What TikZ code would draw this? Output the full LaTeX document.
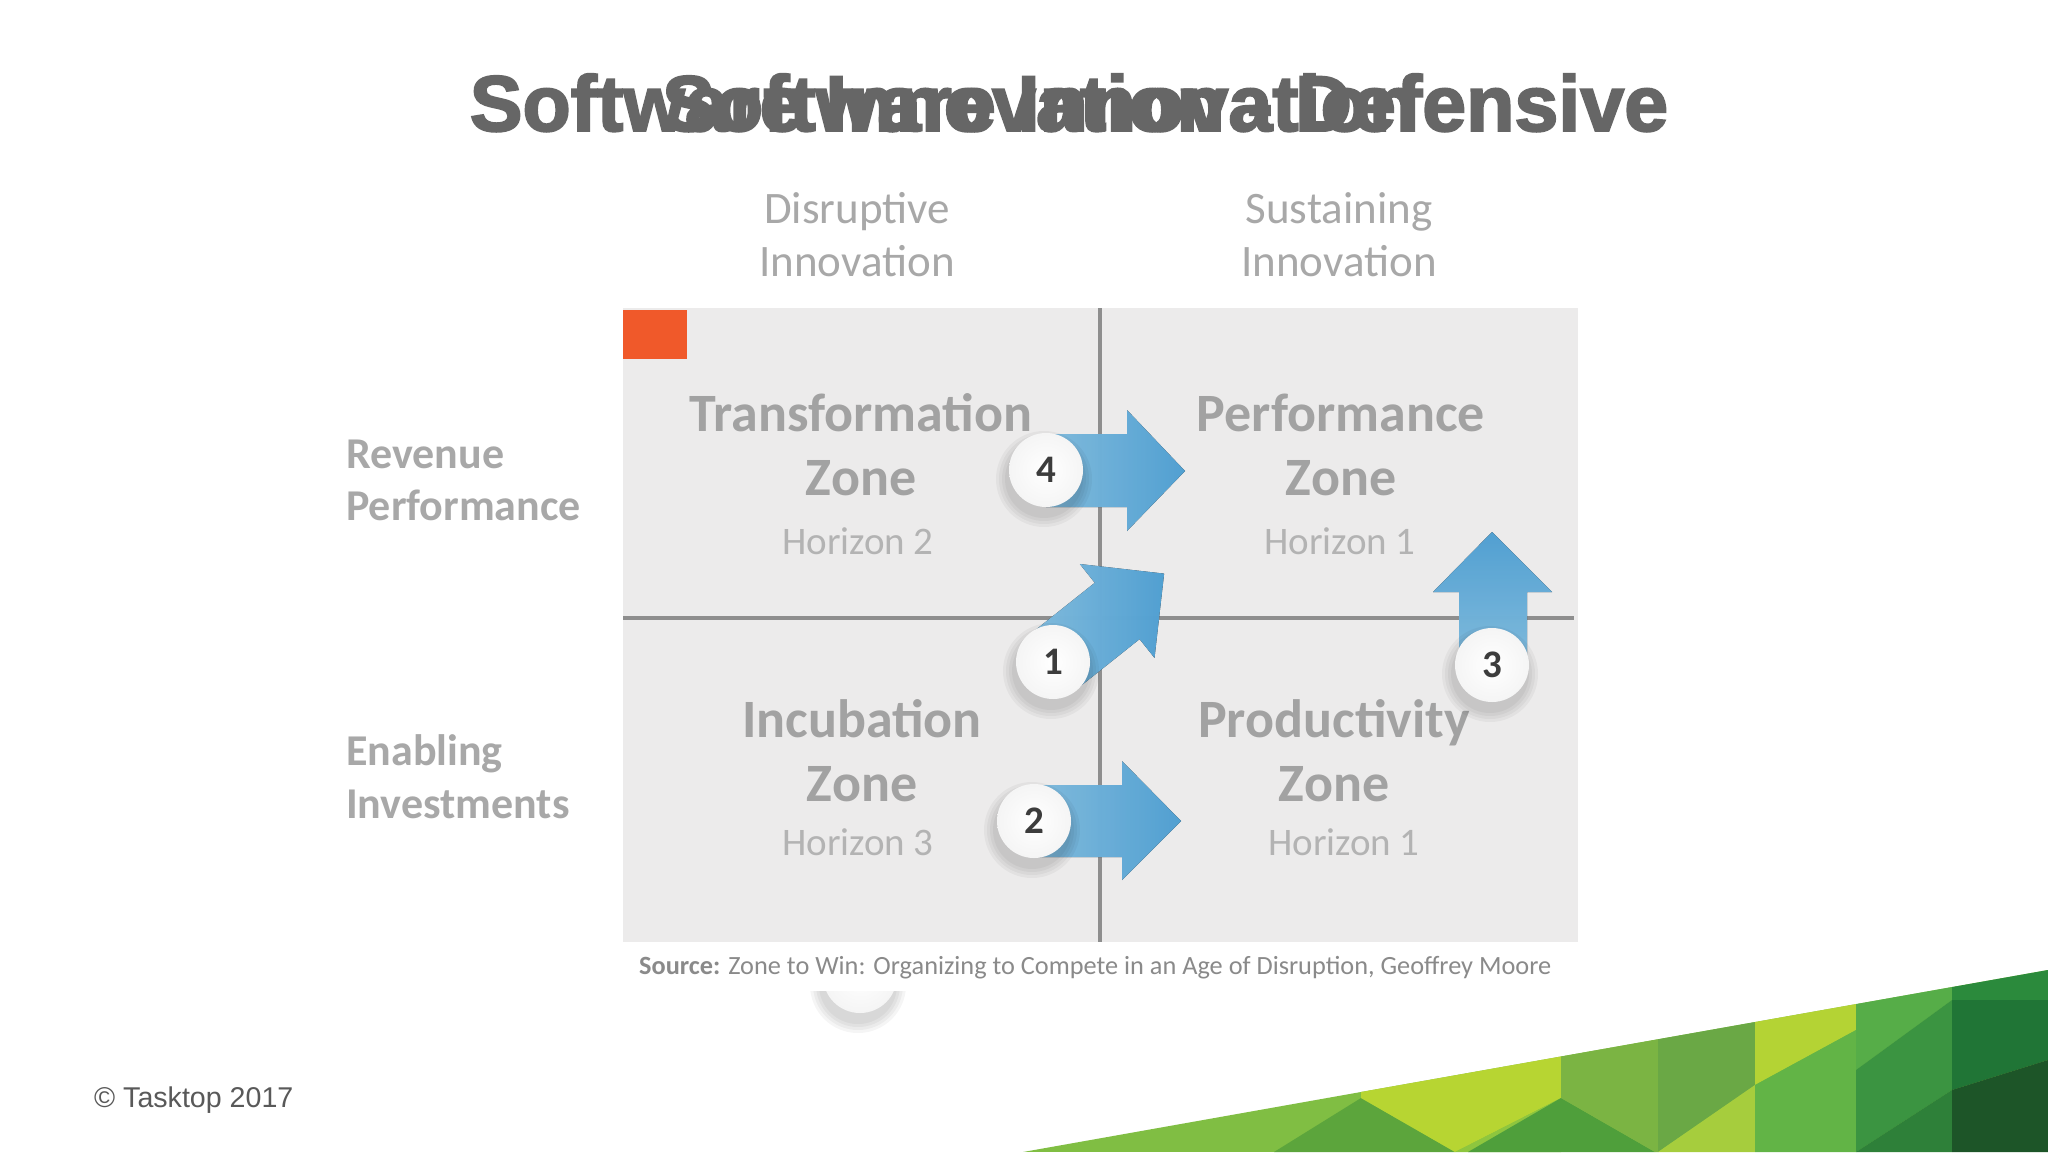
\documentclass[tikz,border=0pt]{standalone}
\usepackage{fontspec}
\setmainfont{Carlito}
\newfontfamily\arialf{Liberation Sans}
\newfontfamily\titlef{Liberation Sans Bold}[FakeBold=2.5]
\usetikzlibrary{calc}
\definecolor{titlegray}{HTML}{666666}
\definecolor{quadbg}{HTML}{ECEBEB}
\definecolor{divline}{HTML}{8E8E8E}
\definecolor{labgray}{HTML}{A8A8A8}
\definecolor{zonegray}{HTML}{A2A2A2}
\definecolor{horgray}{HTML}{B3B3B3}
\definecolor{srcgray}{HTML}{8A8A8A}
\definecolor{orangesq}{HTML}{F0592A}
\definecolor{arrowlight}{HTML}{8DCDF2}
\definecolor{arrowdark}{HTML}{58AFE6}
\definecolor{numgray}{HTML}{3C3C3C}
\definecolor{copygray}{HTML}{595959}
\definecolor{gA}{HTML}{80BE43}
\definecolor{gB}{HTML}{5CA53C}
\definecolor{gC}{HTML}{B7D532}
\definecolor{gD}{HTML}{8EC63E}
\definecolor{gE}{HTML}{4F9F3B}
\definecolor{gF}{HTML}{7BB443}
\definecolor{gG}{HTML}{6AA845}
\definecolor{gH}{HTML}{A6CD3D}
\definecolor{gI}{HTML}{B4D334}
\definecolor{gJ}{HTML}{62B446}
\definecolor{gK}{HTML}{56AD48}
\definecolor{gL}{HTML}{3B9441}
\definecolor{gM}{HTML}{2E8039}
\definecolor{gN}{HTML}{2B8A3C}
\definecolor{gO}{HTML}{207536}
\definecolor{gP}{HTML}{1D5528}
\begin{document}
\begin{tikzpicture}[x=1pt,y=-1pt,
  every node/.style={inner sep=0pt},
  titletxt/.style={text=titlegray, font=\titlef\fontsize{79}{79}\selectfont},
  hdr/.style={text=labgray, font=\fontsize{45}{45}\selectfont, anchor=base},
  rowhdr/.style={text=labgray, font=\bfseries\fontsize{44}{44}\selectfont, anchor=base west},
  zonelbl/.style={text=zonegray, font=\bfseries\fontsize{54}{54}\selectfont, anchor=base},
  horlbl/.style={text=horgray, font=\fontsize{39}{39}\selectfont, anchor=base},
  numcirc/.style={circle, minimum size=74pt, shading=radial, inner color=white, outer color=black!4, text=numgray, font=\bfseries\fontsize{39}{39}\selectfont},
  arrowfill/.style={fill opacity=0.9, left color=arrowlight, right color=arrowdark},
  arrowfillv/.style={fill opacity=0.9, bottom color=arrowlight, top color=arrowdark},
  divider/.style={draw=divline, line width=3.5pt}
]
\useasboundingbox (0,0) rectangle (2048,1152);
\fill[white] (0,0) rectangle (2048,1152);

% green mosaic
\begin{scope}
\clip (1023,1152) -- (2048,970) -- (2048,1152) -- cycle;
\fill[gA] (1000,950) rectangle (2048,1152);
\fill[gB] (1274,1152) -- (1361,1098) -- (1455,1152) -- cycle;
\fill[gC] (1361,950) -- (1561,950) -- (1561,1098) -- (1455,1152) -- (1361,1098) -- cycle;
\fill[gD] (1455,1152) -- (1561,1098) -- (1561,1152) -- cycle;
\fill[gE] (1468,1152) -- (1561,1098) -- (1655,1152) -- cycle;
\fill[gF] (1561,950) -- (1658,950) -- (1658,1152) -- (1655,1152) -- (1561,1098) -- cycle;
\fill[gG] (1658,950) -- (1755,950) -- (1755,1085) -- (1658,1152) -- cycle;
\fill[gH] (1658,1152) -- (1755,1085) -- (1755,1152) -- cycle;
\fill[gI] (1755,950) -- (1856,950) -- (1856,1030) -- (1755,1085) -- cycle;
\fill[gJ] (1755,1085) -- (1856,1030) -- (1856,1152) -- (1755,1152) -- cycle;
\fill[gK] (1856,950) -- (1952,950) -- (1952,1000) -- (1856,1070) -- cycle;
\fill[gL] (1856,1070) -- (1952,1000) -- (1952,1090) -- (1856,1152) -- cycle;
\fill[gM] (1856,1152) -- (1952,1090) -- (1952,1152) -- cycle;
\fill[gN] (1952,950) rectangle (2048,1000);
\fill[gO] (1952,1000) -- (2048,1000) -- (2048,1060) -- (1952,1090) -- cycle;
\fill[gP] (1952,1090) -- (2048,1060) -- (2048,1152) -- (1952,1152) -- cycle;
\end{scope}

% title (two overlapping texts)
\node[titletxt, anchor=base west] (titleB) at (662,131) {Software Innovation};
\node[titletxt, anchor=base] (titleA) at (1069,131) {Software Innovation - Defensive};

% column and row headers
\node[hdr] (h1a) at (857,223) {Disruptive};
\node[hdr] (h1b) at (857,276) {Innovation};
\node[hdr] (h2a) at (1339,223) {Sustaining};
\node[hdr] (h2b) at (1339,276) {Innovation};
\node[rowhdr] (r1a) at (346,468) {Revenue};
\node[rowhdr] (r1b) at (346,520) {Performance};
\node[rowhdr] (r2a) at (346,765) {Enabling};
\node[rowhdr] (r2b) at (346,818) {Investments};

% quadrant panel
\fill[quadbg] (623,308) rectangle (1578,942);
\fill[orangesq] (623,310) rectangle (687,359);
\draw[divider] (1100,308) -- (1100,942);
\draw[divider] (623,618) -- (1574,618);

% zone labels
\node[zonelbl] (z1a) at (861,431) {Transformation};
\node[zonelbl] (z1b) at (861,495) {Zone};
\node[horlbl] (z1c) at (858,554) {Horizon 2};
\node[zonelbl] (z2a) at (1341,431) {Performance};
\node[zonelbl] (z2b) at (1341,495) {Zone};
\node[horlbl] (z2c) at (1340,554) {Horizon 1};
\node[zonelbl] (z3a) at (862,737) {Incubation};
\node[zonelbl] (z3b) at (862,801) {Zone};
\node[horlbl] (z3c) at (858,855) {Horizon 3};
\node[zonelbl] (z4a) at (1334,737) {Productivity};
\node[zonelbl] (z4b) at (1334,801) {Zone};
\node[horlbl] (z4c) at (1344,855) {Horizon 1};

% circle centres
\coordinate (p4) at (1046,470);
\coordinate (p1) at (1053,662);
\coordinate (p2) at (1034,821);
\coordinate (p3) at (1492,665);
\coordinate (p5) at (860,976);

% block arrows
\begin{scope}[shift={(p4)}]
\fill[arrowfill] (0,-36) -- (81,-36) -- (81,-60) -- (139,1) -- (81,61) -- (81,37) -- (0,37) -- cycle;
\end{scope}
\begin{scope}[shift={(p2)}]
\fill[arrowfill] (0,-36) -- (88,-36) -- (88,-60) -- (147,0) -- (88,59) -- (88,36) -- (0,36) -- cycle;
\end{scope}
\begin{scope}[shift={(p3)}]
\fill[arrowfillv] (-33,0) -- (-33,-73) -- (-59,-73) -- (0,-133) -- (60,-73) -- (35,-73) -- (35,0) -- cycle;
\end{scope}
\begin{scope}[shift={(p1)}, rotate=38.5]
\fill[arrowfill] (0,-36) -- (82,-36) -- (82,-60) -- (142,0) -- (82,60) -- (82,36) -- (0,36) -- cycle;
\end{scope}

% circle shadows
\foreach \p in {p4,p1,p2,p3}{
  \foreach \rr in {48,45,42,39}{
    \fill[black, opacity=0.04] ($(\p)+(-2,9)$) circle (\rr);
  }
}
\node[numcirc] (c4) at (p4) {4};
\node[numcirc] (c1) at (p1) {1};
\node[numcirc] (c2) at (p2) {2};
\node[numcirc] (c3) at (p3) {3};

% partly hidden circle below the source line
\begin{scope}
\clip (780,991) rectangle (940,1060);
\foreach \rr in {48,45,42,39}{
  \fill[black, opacity=0.04] ($(p5)+(-2,9)$) circle (\rr);
}
\node[numcirc] (c5) at (p5) {};
\end{scope}

% source line
\node[text=srcgray, font=\fontsize{26.3}{26.3}\selectfont, anchor=base west] (src) at (639,974) {\textbf{Source:} Zone to Win: Organizing to Compete in an Age of Disruption, Geoffrey Moore};

% copyright
\node[text=copygray, font=\arialf\fontsize{28.6}{28.6}\selectfont, anchor=base west] (copy) at (94,1107) {© Tasktop 2017};
\end{tikzpicture}
\end{document}
